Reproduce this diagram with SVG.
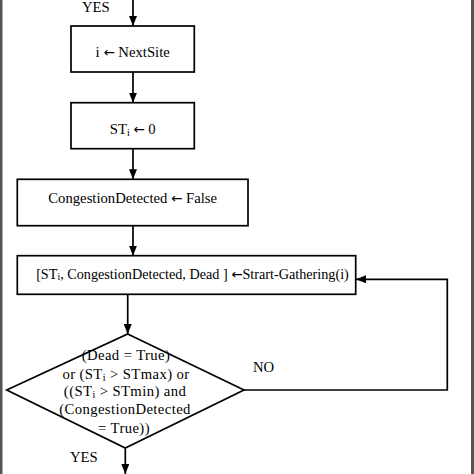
<svg xmlns="http://www.w3.org/2000/svg" width="474" height="474" viewBox="0 0 474 474">
<style>
.box{fill:#fff;stroke:#000;stroke-width:1.7}
.ln{fill:none;stroke:#000;stroke-width:1.7}
text{font-family:"Liberation Serif","Times New Roman",serif;font-size:14.7px;fill:#000}
.c{text-anchor:middle}
.sub{font-size:10px}
.ar{font-family:"DejaVu Sans",sans-serif;font-size:13.5px}
.d{letter-spacing:0.4px}
.s4{font-size:14.2px}
</style>
<defs>
<marker id="ah" markerWidth="10" markerHeight="8" refX="10" refY="4" orient="auto" markerUnits="userSpaceOnUse">
<path d="M0,0 L10,4 L0,8 Z" fill="#000"/>
</marker>
</defs>
<rect x="0" y="0" width="474" height="474" fill="#fff"/>
<rect x="0" y="0" width="2.5" height="474" fill="#555"/>
<rect x="471" y="0" width="3" height="474" fill="#555"/>
<g id="connectors">
<line class="ln" x1="133" y1="0" x2="133" y2="26" marker-end="url(#ah)"/>
<line class="ln" x1="133" y1="72" x2="133" y2="102.7" marker-end="url(#ah)"/>
<line class="ln" x1="133" y1="148.7" x2="133" y2="179.3" marker-end="url(#ah)"/>
<line class="ln" x1="133" y1="225.7" x2="133" y2="255.7" marker-end="url(#ah)"/>
<line class="ln" x1="127.7" y1="294.3" x2="127.7" y2="334" marker-end="url(#ah)"/>
<polyline class="ln" points="244,390 447.3,390 447.3,279.3 356,279.3" marker-end="url(#ah)"/>
<line class="ln" x1="125.3" y1="448" x2="125.3" y2="474" marker-end="url(#ah)"/>
<text x="82" y="11.5">YES</text>
<text x="253" y="371.5">NO</text>
<text x="70" y="461.5">YES</text>
</g>
<g id="n1">
<rect class="box" x="71" y="26" width="123.3" height="46"/>
<text class="c" x="132.7" y="57.3">i <tspan class="ar">←</tspan> NextSite</text>
</g>
<g id="n2">
<rect class="box" x="71" y="102.7" width="123.3" height="46"/>
<text class="c" x="132.7" y="134">ST<tspan class="sub" dy="2">i</tspan><tspan dy="-2"> </tspan><tspan class="ar">←</tspan> 0</text>
</g>
<g id="n3">
<rect class="box" x="17.3" y="179.3" width="230.7" height="46.4"/>
<text class="c" x="132.7" y="202.7">CongestionDetected <tspan class="ar">←</tspan> False</text>
</g>
<g id="n4">
<rect class="box" x="17.3" y="255.7" width="338.4" height="38.6"/>
<text x="192.5" y="279.3" class="c s4">[ST<tspan class="sub" dy="1">i</tspan><tspan dy="-1">, CongestionDetected, Dead ] </tspan><tspan class="ar">←</tspan>Strart-Gathering(i)</text>
</g>
<g id="n5">
<polygon class="box" points="127.7,334 244,390 125.3,448 6.7,390"/>
<text class="c d" x="126" y="360">(Dead = True)</text>
<text class="c d" x="126" y="378.5">or (ST<tspan class="sub" dy="2">i</tspan><tspan dy="-2"> &gt; STmax) or</tspan></text>
<text class="c d" x="125" y="396">((ST<tspan class="sub" dy="2">i</tspan><tspan dy="-2"> &gt; STmin) and</tspan></text>
<text class="c d" x="125" y="414">(CongestionDetected</text>
<text class="c d" x="124" y="432.5">= True))</text>
</g>
</svg>
